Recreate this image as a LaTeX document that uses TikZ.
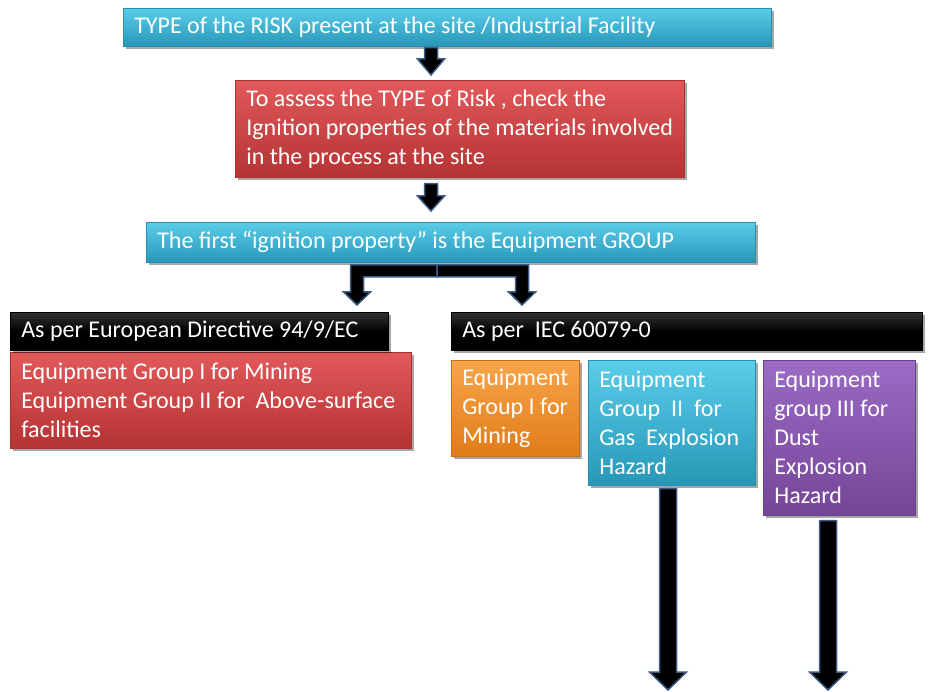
\documentclass[tikz,border=0pt]{standalone}
\usepackage{fontspec}
\setmainfont{Carlito}
\usetikzlibrary{shadows,calc}
\definecolor{cyanT}{HTML}{5ACDEB}
\definecolor{cyanB}{HTML}{2797B6}
\definecolor{cyanE}{HTML}{2A8FAE}
\definecolor{redT}{HTML}{E2595A}
\definecolor{redB}{HTML}{B53333}
\definecolor{redE}{HTML}{A83030}
\definecolor{orT}{HTML}{F9A44A}
\definecolor{orB}{HTML}{E07C18}
\definecolor{orE}{HTML}{C96E14}
\definecolor{puT}{HTML}{9B6BC6}
\definecolor{puB}{HTML}{744596}
\definecolor{puE}{HTML}{66408A}
\definecolor{arrowE}{HTML}{3D5B84}
\newcommand\boxfont{\fontsize{24}{29}\selectfont}
\newcommand\tl[1]{\mbox{#1}}
\tikzset{
  box/.style={anchor=north west, inner xsep=11pt, inner ysep=0pt, align=left,
    text=white, font=\boxfont, line width=0.6pt,
    execute at begin node={\spaceskip=0pt\relax\xspaceskip=0pt\relax},
    drop shadow={shadow xshift=2.5pt, shadow yshift=-2.5pt, opacity=0.35, fill=black}},
  cyanbox/.style={box, top color=cyanT, bottom color=cyanB, draw=cyanE},
  redbox/.style={box, top color=redT, bottom color=redB, draw=redE},
  orbox/.style={box, top color=orT, bottom color=orB, draw=orE},
  pubox/.style={box, top color=puT, bottom color=puB, draw=puE},
  hdrbox/.style={box, top color=black!80, bottom color=black, middle color=black, draw=black},
  blkarrow/.style={fill=black, draw=arrowE, line width=1.5pt, line join=miter}
}
\newcommand\downblk[5]{%
  \draw[blkarrow] let \p1=(#1), \p2=(#2) in
    (\x1-#3/2,\y1) -- (\x1-#3/2,\y2+#5) -- (\x1-#4/2,\y2+#5) -- (\x1,\y2)
    -- (\x1+#4/2,\y2+#5) -- (\x1+#3/2,\y2+#5) -- (\x1+#3/2,\y1) -- cycle;}
\begin{document}
\begin{tikzpicture}[x=1pt,y=-1pt]
\useasboundingbox (0,0) rectangle (932,692);
\fill[white] (0,0) rectangle (932,692);

\node[cyanbox, minimum width=648pt, minimum height=38pt, text width=626pt] (top) at (123,8)
  {\tl{TYPE of the RISK present at the site /Industrial Facility}};
\node[redbox, minimum width=449pt, minimum height=97pt, text width=427pt] (assess) at (235,80)
  {\tl{To assess the TYPE of Risk , check the}\\\tl{Ignition properties of the materials involved}\\\tl{in the process at the site}};
\node[cyanbox, minimum width=609pt, minimum height=40pt, text width=587pt] (first) at (146,222)
  {\tl{The first “ignition property” is the Equipment GROUP}};
\node[redbox, minimum width=401pt, minimum height=96pt, text width=379pt] (redL) at (10,352)
  {\tl{Equipment Group I for Mining}\\\tl{Equipment Group II for~ Above-surface}\\\tl{facilities}};
\node[hdrbox, minimum width=378pt, minimum height=38pt, text width=356pt] (hdrL) at (10,312)
  {\tl{As per European Directive 94/9/EC}};
\node[hdrbox, minimum width=471pt, minimum height=38pt, text width=449pt] (hdrR) at (451,312)
  {\tl{As per~ IEC 60079-0}};
\node[orbox, minimum width=128pt, minimum height=96pt, text width=106pt] (grpI) at (451,360)
  {\tl{Equipment}\\\tl{Group I for}\\\tl{Mining}};
\node[cyanbox, minimum width=167pt, minimum height=125pt, text width=145pt] (grpII) at (588,360)
  {\tl{Equipment}\\\tl{Group~ II~ for}\\\tl{Gas~ Explosion}\\\tl{Hazard}};
\node[pubox, minimum width=152pt, minimum height=155pt, text width=130pt] (grpIII) at (763,360)
  {\tl{Equipment}\\\tl{group III for}\\\tl{Dust}\\\tl{Explosion}\\\tl{Hazard}};

% straight arrows
\coordinate (ax) at (431,0);
\downblk{$(top.south -| ax)+(0,1)$}{$(assess.north -| ax)+(0,-5)$}{13pt}{27pt}{16pt}
\downblk{$(assess.south -| ax)+(0,6)$}{$(first.north -| ax)+(0,-11)$}{13pt}{27pt}{15pt}

% bracket arrows
\coordinate (bj) at (437,265);
\coordinate (tipL) at ($(hdrL.north west)+(347,-7)$);
\coordinate (tipR) at ($(hdrR.north west)+(71,-7)$);
\draw[blkarrow] let \p1=(bj), \p2=(tipL) in
  (\x1,\y1) -- (\x2-6.5pt,\y1) -- (\x2-6.5pt,\y2+13pt) -- (\x2-13.5pt,\y2+13pt) -- (\x2,\y2)
  -- (\x2+13.5pt,\y2+13pt) -- (\x2+6.5pt,\y2+13pt) -- (\x2+6.5pt,\y1-12pt) -- (\x1,\y1-12pt) -- cycle;
\draw[blkarrow] let \p1=(bj), \p2=(tipR) in
  (\x1,\y1) -- (\x2+6.5pt,\y1) -- (\x2+6.5pt,\y2+13pt) -- (\x2+13.5pt,\y2+13pt) -- (\x2,\y2)
  -- (\x2-13.5pt,\y2+13pt) -- (\x2-6.5pt,\y2+13pt) -- (\x2-6.5pt,\y1-12pt) -- (\x1,\y1-12pt) -- cycle;

% long arrows
\coordinate (endII) at (668,690);
\coordinate (endIII) at (828,690);
\downblk{$(grpII.south -| endII)+(0,3)$}{endII}{17pt}{37pt}{18pt}
\downblk{$(grpIII.south -| endIII)+(0,5)$}{endIII}{17pt}{37pt}{18pt}
\end{tikzpicture}
\end{document}
